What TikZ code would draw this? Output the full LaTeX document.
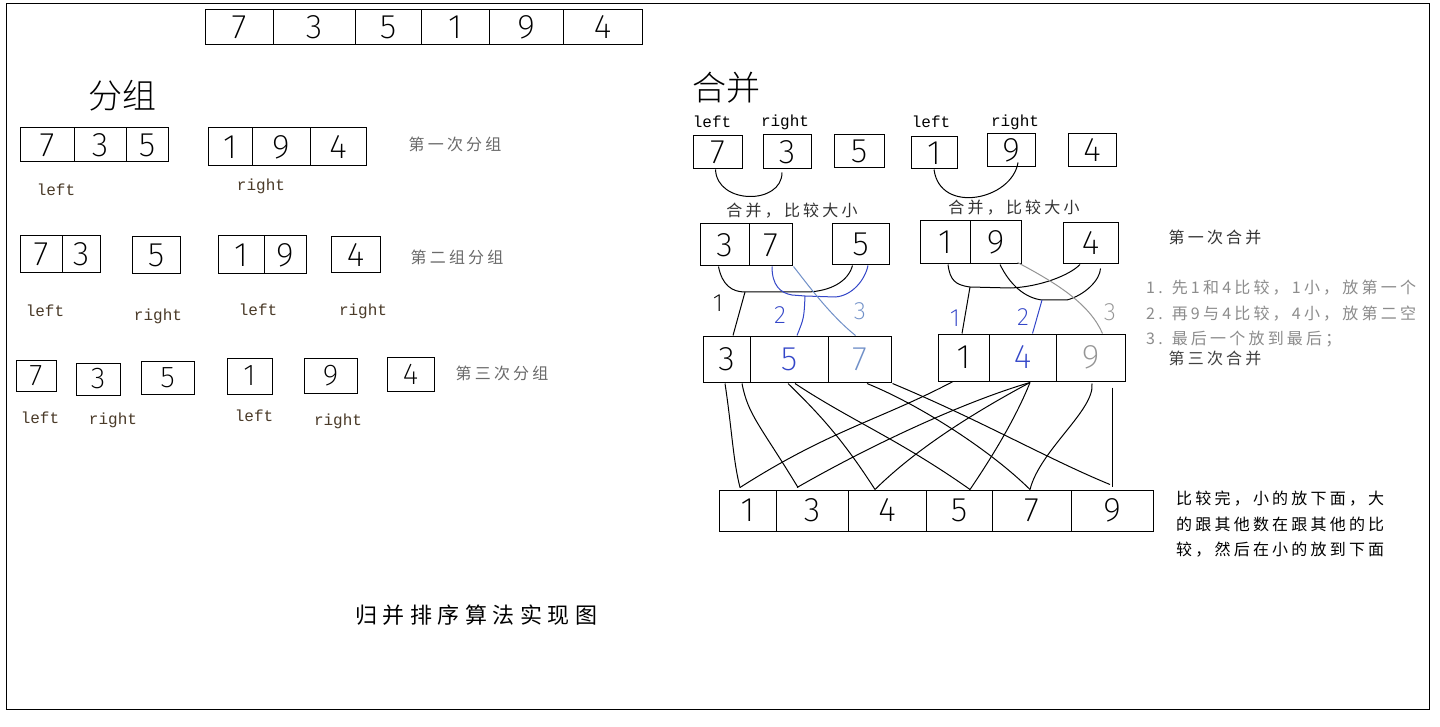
\documentclass[tikz,border=0pt]{standalone}
\usepackage{fontspec}
\usetikzlibrary{calc}
\newfontfamily\cjk[LetterSpace=20]{Noto Sans CJK SC}
\IfFontExistsTF{Noto Sans CJK SC Light}{\newfontfamily\cjkhand{Noto Sans CJK SC Light}}{\newfontfamily\cjkhand{Noto Sans CJK SC}}
\newfontfamily\lblfont{Liberation Mono}
\IfFontExistsTF{Fira Sans ExtraLight}{\newfontfamily\dig{Fira Sans ExtraLight}}{%
  \IfFontExistsTF{Fira Sans Light}{\newfontfamily\dig{Fira Sans Light}}{\newfontfamily\dig{Liberation Sans}}}
\definecolor{lblbrown}{HTML}{4A3A28}
\definecolor{notegray}{HTML}{6A6A6A}
\definecolor{listgray}{HTML}{8C8C8C}
\definecolor{hblue}{HTML}{3346C8}
\definecolor{lblue}{HTML}{7090C8}
\definecolor{lgray}{HTML}{959595}
\tikzset{
  cell/.style={draw, line width=1pt, inner sep=0pt, font=\dig\fontsize{34}{34}\selectfont},
  ln/.style={line width=1pt},
  lbl/.style={font=\lblfont\fontsize{16}{16}\selectfont, text=lblbrown, inner sep=0pt},
  lblk/.style={font=\lblfont\fontsize{16}{16}\selectfont, text=black, inner sep=0pt},
  note/.style={font=\cjk\fontsize{16}{16}\selectfont, text=notegray, inner sep=0pt},
  listtxt/.style={font=\cjk\fontsize{16}{16}\selectfont, text=listgray, inner sep=0pt, anchor=west},
  body/.style={font=\cjk\fontsize{16}{16}\selectfont, text=black, inner sep=0pt, anchor=west},
  hand/.style={font=\cjkhand\fontsize{34}{34}\selectfont, inner sep=0pt},
  hnum/.style={font=\dig\fontsize{25}{25}\selectfont, inner sep=0pt},
  small/.style={font=\dig\fontsize{30}{30}\selectfont},
}
\newcommand\mycell[7][]{\node[cell,minimum width={(#5)-(#3)},minimum height={(#6)-(#4)},#1] (#2) at ({((#3)+(#5))/2},{((#4)+(#6))/2}) {#7};}
\begin{document}
\begin{tikzpicture}[x=1pt,y=-1pt]
\useasboundingbox (0,0) rectangle (1440,727);
\fill[white] (0,0) rectangle (1440,727);
\draw[ln] (6,4) rectangle (1429,709);

% top array
\mycell{t1}{205}{10}{273}{45}{7}
\mycell{t2}{273}{10}{355}{45}{3}
\mycell{t3}{355}{10}{421}{45}{5}
\mycell{t4}{421}{10}{489}{45}{1}
\mycell{t5}{489}{10}{563}{45}{9}
\mycell{t6}{563}{10}{642}{45}{4}

\node[hand] (fz) at (122,96) {分组};
\node[hand] (hb) at (726,88) {合并};

% row 1
\mycell{a11}{20}{128}{74}{162}{7}
\mycell{a12}{74}{128}{126}{162}{3}
\mycell{a13}{126}{128}{168}{162}{5}
\mycell{a14}{208}{128}{252}{166}{1}
\mycell{a15}{252}{128}{310}{166}{9}
\mycell{a16}{310}{128}{366}{166}{4}
\node[note] (s1) at (455,144) {第一次分组};
\node[lbl] (l11) at (56,190) {left};
\node[lbl] (l12) at (261,186) {right};

% row 2
\mycell{a21}{20}{236}{62}{273}{7}
\mycell{a22}{62}{236}{100}{273}{3}
\mycell{a23}{132}{237}{180}{274}{5}
\mycell{a24}{218}{236}{264}{274}{1}
\mycell{a25}{264}{236}{306}{274}{9}
\mycell{a26}{331}{237}{380}{273}{4}
\node[note] (s2) at (457,257) {第二组分组};
\node[lbl] (l21) at (45,311) {left};
\node[lbl] (l22) at (158,316) {right};
\node[lbl] (l23) at (258,310) {left};
\node[lbl] (l24) at (363,311) {right};

% row 3
\mycell[small]{a31}{16}{360}{56}{391}{7}
\mycell[small]{a32}{76}{363}{120}{395}{3}
\mycell[small]{a33}{141}{361}{194}{394}{5}
\mycell[small]{a34}{227}{358}{272}{394}{1}
\mycell[small]{a35}{304}{358}{357}{393}{9}
\mycell[small]{a36}{387}{357}{434}{391}{4}
\node[note] (s3) at (502,373) {第三次分组};
\node[lbl] (l31) at (40,418) {left};
\node[lbl] (l32) at (113,420) {right};
\node[lbl] (l33) at (254,416) {left};
\node[lbl] (l34) at (338,421) {right};

% merge side: first row
\node[lblk] (ml1) at (712,122) {left};
\node[lblk] (mr1) at (785,122) {right};
\node[lblk] (ml2) at (931,122) {left};
\node[lblk] (mr2) at (1015,122) {right};
\mycell{r7}{693}{136}{742}{169}{7}
\mycell{r3}{763}{135}{811}{169}{3}
\mycell{r5}{834}{135}{884}{168}{5}
\mycell{r1}{911}{137}{957}{169}{1}
\mycell{r9}{987}{134}{1035}{167}{9}
\mycell{r4}{1068}{134}{1116}{167}{4}
\draw[ln] ($(r7.south)+(-2,0)$) .. controls (717,205) and (782,205) .. ($(r3.south)+(-5,3)$);
\draw[ln] (r1.south) .. controls (940,215) and (1012,200) .. ($(r9.south)+(7,-5)$);
\node[note,text=black!80] (hb1) at (792,211) {合并，比较大小};
\node[note,text=black!80] (hb2) at (1014,208) {合并，比较大小};

% second row
\mycell{m3}{700}{224}{749}{266}{3}
\mycell{m7}{749}{224}{792}{266}{7}
\mycell{m5}{832}{224}{889}{265}{5}
\mycell{n1}{920}{221}{970}{264}{1}
\mycell{n9}{970}{221}{1021}{264}{9}
\mycell{n4}{1063}{223}{1118}{264}{4}
\node[note,text=black!80] (c1) at (1215,237) {第一次合并};

% merged row
\mycell{a3}{703}{336}{750}{382}{3}
\mycell[text=hblue]{a5}{750}{336}{828}{382}{5}
\mycell[text=lblue]{a7}{828}{336}{891}{382}{7}
\mycell{b1}{938}{334}{989}{381}{1}
\mycell[text=hblue]{b4}{989}{334}{1056}{381}{4}
\mycell[text=lgray]{b9}{1056}{334}{1125}{381}{9}

% junctions
\coordinate (j1) at (745,292);
\coordinate (j2) at (805,296);
\coordinate (j3) at (970,287);
\coordinate (j4) at (1042,300);

% left merge curves
\draw[ln] ($(m3.south)+(-6,0)$) .. controls (722,285) and (732,292) .. (j1) -- (808,292) .. controls (830,291) and (848,282) .. ($(m5.south)+(-8,0)$);
\draw[ln] (j1) -- ($(a3.north)+(6.5,0)$);
\draw[ln,hblue] ($(m7.south)+(1.5,0)$) .. controls (772,285) and (780,293) .. (792,295) -- (j2) -- (835,297) .. controls (852,296) and (865,280) .. ($(m5.south)+(7.5,0)$);
\draw[ln,hblue] (j2) .. controls (804,318) .. ($(a5.north)+(8,0)$);
\draw[ln,lblue] ($(m7.south east)+(1,0)$) .. controls (808,285) and (830,315) .. ($(a7.north)+(-4,0)$);

% right merge curves
\draw[ln] ($(n1.south)+(3,0)$) .. controls (950,280) and (955,285) .. (j3) -- (1010,288) .. controls (1040,287) and (1070,275) .. ($(n4.south)+(-10.5,0)$);
\draw[ln] (j3) -- ($(b1.north)+(-1.5,0)$);
\draw[ln] ($(n9.south)+(4.5,0)$) .. controls (1010,285) and (1025,298) .. (j4) -- (1067,300) .. controls (1085,295) and (1100,280) .. ($(n4.south)+(10,4)$);
\draw[ln,hblue] (j4) -- ($(b4.north)+(10,0)$);
\draw[ln,lgray] ($(n9.south east)+(-4,-2)$) .. controls (1060,285) and (1090,305) .. ($(b9.north)+(12,0)$);

% step numbers
\node[hnum] (k1) at (718,303) {1};
\node[hnum,text=hblue] (k2) at (780,315) {2};
\node[hnum,text=lblue] (k3) at (860,311) {3};
\node[hnum,text=hblue] (k4) at (955,318) {1};
\node[hnum,text=hblue] (k5) at (1023,317) {2};
\node[hnum,text=lgray] (k6) at (1110,312) {3};

% notes
\node[listtxt] (p1) at (1146,288) {1. 先1和4比较，1小，放第一个};
\node[listtxt] (p2) at (1146,314) {2. 再9与4比较，4小，放第二空};
\node[listtxt] (p3) at (1146,339) {3. 最后一个放到最后；};
\node[note,text=black!75] (c2) at (1215,358) {第三次合并};

% bottom row
\mycell{z1}{719}{490}{776}{531}{1}
\mycell{z3}{776}{490}{848}{531}{3}
\mycell{z4}{848}{490}{926}{531}{4}
\mycell{z5}{926}{490}{992}{531}{5}
\mycell{z7}{992}{490}{1071}{531}{7}
\mycell{z9}{1071}{490}{1153}{531}{9}

% crossing connectors
\draw[ln] ($(a3.south)+(-1.5,1)$) .. controls (732,430) and (733,460) .. ($(z1.north)+(-7.5,-2)$);
\draw[ln] ($(a3.south)+(15.5,1)$) .. controls (748,415) and (760,425) .. ($(z3.north)+(-14,-2)$);
\draw[ln] ($(a5.south)+(-1,1)$) .. controls (815,410) and (840,435) .. ($(z4.north)+(-12,0)$);
\draw[ln] ($(a5.south)+(6,1)$) .. controls (850,420) and (900,440) .. ($(z5.north)+(11,0)$);
\draw[ln] ($(a7.south)+(7.5,1)$) .. controls (920,405) and (990,450) .. ($(z7.north)+(-1.5,0)$);
\draw[ln] ($(a7.south east)+(1,1)$) .. controls (980,420) and (1050,460) .. ($(z9.north)+(-2,-5)$);
\draw[ln] ($(b1.south)+(-10.5,0)$) .. controls (880,420) and (830,430) .. ($(z1.north)+(-7.5,-2)$);
\draw[ln] ($(b4.south)+(7.5,1)$) .. controls (970,400) and (880,440) .. ($(z3.north)+(-15,-2)$);
\draw[ln] ($(b4.south)+(7.5,1)$) .. controls (960,420) and (910,455) .. ($(z4.north)+(-12,0)$);
\draw[ln] ($(b4.south)+(7.5,1)$) .. controls (1015,420) and (990,460) .. ($(z5.north)+(11,0)$);
\draw[ln] ($(b9.south)+(1.5,2)$) .. controls (1095,410) and (1040,450) .. ($(z7.north)+(-1.5,0)$);
\draw[ln] ($(b9.south)+(21.5,6)$) -- ($(z9.north)+(0,-3)$);

\node[body] (e1) at (1176,499) {比较完，小的放下面，大};
\node[body] (e2) at (1176,524) {的跟其他数在跟其他的比};
\node[body] (e3) at (1176,550) {较，然后在小的放到下面};

\node[font=\cjk\fontsize{22}{22}\selectfont\addfontfeatures{LetterSpace=25}, inner sep=0pt] (title) at (476,615) {归并排序算法实现图};
\end{tikzpicture}
\end{document}
